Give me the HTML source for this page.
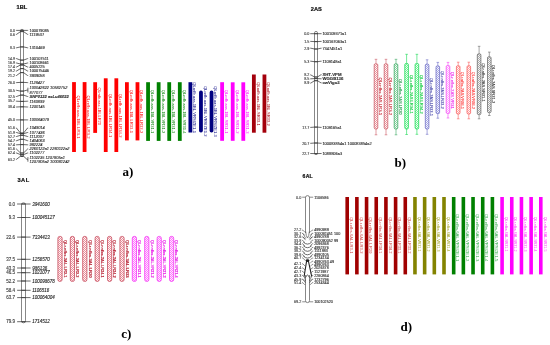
<!DOCTYPE html><html><head><meta charset="utf-8"><title>QTL map</title><style>html,body{margin:0;padding:0;background:#fff;}body{width:550px;height:345px;overflow:hidden;}svg{display:block;}</style></head><body>
<svg width="550" height="345" viewBox="0 0 550 345">
<rect width="550" height="345" fill="#fff"/>
<defs>
<pattern id="p_rose" width="2" height="2" patternUnits="userSpaceOnUse"><rect width="2" height="2" fill="#fff5f6"/><rect width="1" height="1" fill="#e8949c"/><rect x="1" y="1" width="1" height="1" fill="#e8949c"/></pattern>
<pattern id="p_mgreen" width="2" height="2" patternUnits="userSpaceOnUse"><rect width="2" height="2" fill="#f2fbf5"/><rect width="1" height="1" fill="#86d2a0"/><rect x="1" y="1" width="1" height="1" fill="#86d2a0"/></pattern>
<pattern id="p_bgreen" width="2" height="2" patternUnits="userSpaceOnUse"><rect width="2" height="2" fill="#f0fff4"/><rect width="1" height="1" fill="#72f296"/><rect x="1" y="1" width="1" height="1" fill="#72f296"/></pattern>
<pattern id="p_peri" width="2" height="2" patternUnits="userSpaceOnUse"><rect width="2" height="2" fill="#f5f5fd"/><rect width="1" height="1" fill="#a6a6e2"/><rect x="1" y="1" width="1" height="1" fill="#a6a6e2"/></pattern>
<pattern id="p_pmag" width="2" height="2" patternUnits="userSpaceOnUse"><rect width="2" height="2" fill="#fff5ff"/><rect width="1" height="1" fill="#ff9cff"/><rect x="1" y="1" width="1" height="1" fill="#ff9cff"/></pattern>
<pattern id="p_salmon" width="2" height="2" patternUnits="userSpaceOnUse"><rect width="2" height="2" fill="#fff5f5"/><rect width="1" height="1" fill="#ffa0a0"/><rect x="1" y="1" width="1" height="1" fill="#ffa0a0"/></pattern>
<pattern id="p_gray" width="2" height="2" patternUnits="userSpaceOnUse"><rect width="2" height="2" fill="#f4f4f4"/><rect width="1" height="1" fill="#a8a8a8"/><rect x="1" y="1" width="1" height="1" fill="#a8a8a8"/></pattern>
<pattern id="p_crose" width="2" height="2" patternUnits="userSpaceOnUse"><rect width="2" height="2" fill="#fff4f5"/><rect width="1" height="1" fill="#e8909c"/><rect x="1" y="1" width="1" height="1" fill="#e8909c"/></pattern>
<pattern id="p_cmag" width="2" height="2" patternUnits="userSpaceOnUse"><rect width="2" height="2" fill="#ffe8ff"/><rect width="1" height="1" fill="#ff78ff"/><rect x="1" y="1" width="1" height="1" fill="#ff78ff"/></pattern>
</defs>
<text x="16.6" y="8.8" font-family="'Liberation Sans', Arial, sans-serif" font-weight="bold" font-size="5.7" fill="#111" stroke="#111" stroke-width="0.2">1BL</text>
<rect x="20.5" y="29.3" width="3" height="127.3" rx="1.5" ry="1.5" fill="none" stroke="#6a6a6a" stroke-width="0.8"/>
<text x="14.9" y="31.66" text-anchor="end" font-family="'Liberation Sans', Arial, sans-serif" font-size="3.5" fill="#3a3a3a" stroke="#3a3a3a" stroke-width="0.12">0.0</text>
<path d="M15.9 30.4L16.5 30.4L20.5 30.4L23.5 30.4L27.6 30.4L28.2 30.4" fill="none" stroke="#303030" stroke-width="0.72"/>
<path d="M20.2 30.4H23.8" stroke="#3a3a3a" stroke-width="0.8"/>
<text x="29.5" y="31.8" font-family="'Liberation Sans', Arial, sans-serif" font-size="3.9" fill="#2a2a2a" stroke="#2a2a2a" stroke-width="0.12">100079085</text>
<text x="14.9" y="35.66" text-anchor="end" font-family="'Liberation Sans', Arial, sans-serif" font-size="3.5" fill="#3a3a3a" stroke="#3a3a3a" stroke-width="0.12">0.6</text>
<path d="M15.9 34.4L16.5 34.4L20.5 31.6L23.5 31.6L27.6 34.4L28.2 34.4" fill="none" stroke="#303030" stroke-width="0.72"/>
<path d="M20.2 31.6H23.8" stroke="#3a3a3a" stroke-width="0.8"/>
<text x="29.5" y="35.8" font-family="'Liberation Sans', Arial, sans-serif" font-size="3.9" fill="#2a2a2a" stroke="#2a2a2a" stroke-width="0.12">1119537</text>
<text x="14.9" y="49.06" text-anchor="end" font-family="'Liberation Sans', Arial, sans-serif" font-size="3.5" fill="#3a3a3a" stroke="#3a3a3a" stroke-width="0.12">8.3</text>
<path d="M15.9 47.8L16.5 47.8L20.5 46.9L23.5 46.9L27.6 47.8L28.2 47.8" fill="none" stroke="#303030" stroke-width="0.72"/>
<path d="M20.2 46.9H23.8" stroke="#3a3a3a" stroke-width="0.8"/>
<text x="29.5" y="49.2" font-family="'Liberation Sans', Arial, sans-serif" font-size="3.9" fill="#2a2a2a" stroke="#2a2a2a" stroke-width="0.12">1310469</text>
<text x="14.9" y="59.86" text-anchor="end" font-family="'Liberation Sans', Arial, sans-serif" font-size="3.5" fill="#3a3a3a" stroke="#3a3a3a" stroke-width="0.12">14.9</text>
<path d="M15.9 58.6L16.5 58.6L20.5 60.1L23.5 60.1L27.6 58.6L28.2 58.6" fill="none" stroke="#303030" stroke-width="0.72"/>
<path d="M20.2 60.1H23.8" stroke="#3a3a3a" stroke-width="0.8"/>
<text x="29.5" y="60" font-family="'Liberation Sans', Arial, sans-serif" font-size="3.9" fill="#2a2a2a" stroke="#2a2a2a" stroke-width="0.12">100107511</text>
<text x="14.9" y="64.26" text-anchor="end" font-family="'Liberation Sans', Arial, sans-serif" font-size="3.5" fill="#3a3a3a" stroke="#3a3a3a" stroke-width="0.12">16.9</text>
<path d="M15.9 63L16.5 63L20.5 64L23.5 64L27.6 63L28.2 63" fill="none" stroke="#303030" stroke-width="0.72"/>
<path d="M20.2 64H23.8" stroke="#3a3a3a" stroke-width="0.8"/>
<text x="29.5" y="64.4" font-family="'Liberation Sans', Arial, sans-serif" font-size="3.9" fill="#2a2a2a" stroke="#2a2a2a" stroke-width="0.12">100108661</text>
<text x="14.9" y="68.26" text-anchor="end" font-family="'Liberation Sans', Arial, sans-serif" font-size="3.5" fill="#3a3a3a" stroke="#3a3a3a" stroke-width="0.12">17.4</text>
<path d="M15.9 67L16.5 67L20.5 65L23.5 65L27.6 67L28.2 67" fill="none" stroke="#303030" stroke-width="0.72"/>
<path d="M20.2 65H23.8" stroke="#3a3a3a" stroke-width="0.8"/>
<text x="29.5" y="68.4" font-family="'Liberation Sans', Arial, sans-serif" font-size="3.9" fill="#2a2a2a" stroke="#2a2a2a" stroke-width="0.12">4005225</text>
<text x="14.9" y="72.26" text-anchor="end" font-family="'Liberation Sans', Arial, sans-serif" font-size="3.5" fill="#3a3a3a" stroke="#3a3a3a" stroke-width="0.12">19.2</text>
<path d="M15.9 71L16.5 71L20.5 68.6L23.5 68.6L27.6 71L28.2 71" fill="none" stroke="#303030" stroke-width="0.72"/>
<path d="M20.2 68.6H23.8" stroke="#3a3a3a" stroke-width="0.8"/>
<text x="29.5" y="72.4" font-family="'Liberation Sans', Arial, sans-serif" font-size="3.9" fill="#2a2a2a" stroke="#2a2a2a" stroke-width="0.12">100075446</text>
<text x="14.9" y="76.76" text-anchor="end" font-family="'Liberation Sans', Arial, sans-serif" font-size="3.5" fill="#3a3a3a" stroke="#3a3a3a" stroke-width="0.12">21.2</text>
<path d="M15.9 75.5L16.5 75.5L20.5 72.6L23.5 72.6L27.6 75.5L28.2 75.5" fill="none" stroke="#303030" stroke-width="0.72"/>
<path d="M20.2 72.6H23.8" stroke="#3a3a3a" stroke-width="0.8"/>
<text x="29.5" y="76.9" font-family="'Liberation Sans', Arial, sans-serif" font-size="3.9" fill="#2a2a2a" stroke="#2a2a2a" stroke-width="0.12">3939058</text>
<text x="14.9" y="83.86" text-anchor="end" font-family="'Liberation Sans', Arial, sans-serif" font-size="3.5" fill="#3a3a3a" stroke="#3a3a3a" stroke-width="0.12">26.0</text>
<path d="M15.9 82.6L16.5 82.6L20.5 82.4L23.5 82.4L27.6 82.6L28.2 82.6" fill="none" stroke="#303030" stroke-width="0.72"/>
<path d="M20.2 82.4H23.8" stroke="#3a3a3a" stroke-width="0.8"/>
<text x="29.5" y="84" font-family="'Liberation Sans', Arial, sans-serif" font-size="3.9" fill="#2a2a2a" stroke="#2a2a2a" stroke-width="0.12" font-style="italic">1128427</text>
<text x="14.9" y="91.56" text-anchor="end" font-family="'Liberation Sans', Arial, sans-serif" font-size="3.5" fill="#3a3a3a" stroke="#3a3a3a" stroke-width="0.12">30.5</text>
<path d="M15.9 90.3L16.5 90.3L20.5 91.1L23.5 91.1L27 90.1" fill="none" stroke="#303030" stroke-width="0.72"/>
<path d="M27.9 87.7V92.5M27 90.1H27.9" fill="none" stroke="#303030" stroke-width="0.72"/>
<path d="M20.2 91.1H23.8" stroke="#3a3a3a" stroke-width="0.8"/>
<text x="29.5" y="89.4" font-family="'Liberation Sans', Arial, sans-serif" font-size="3.9" fill="#2a2a2a" stroke="#2a2a2a" stroke-width="0.12" font-style="italic">100042622 10582752</text>
<text x="29.5" y="93.6" font-family="'Liberation Sans', Arial, sans-serif" font-size="3.9" fill="#2a2a2a" stroke="#2a2a2a" stroke-width="0.12" font-style="italic">877077</text>
<text x="14.9" y="97.76" text-anchor="end" font-family="'Liberation Sans', Arial, sans-serif" font-size="3.5" fill="#3a3a3a" stroke="#3a3a3a" stroke-width="0.12">32.5</text>
<path d="M15.9 96.5L16.5 96.5L20.5 95.1L23.5 95.1L27.6 96.5L28.2 96.5" fill="none" stroke="#303030" stroke-width="0.72"/>
<path d="M20.2 95.1H23.8" stroke="#3a3a3a" stroke-width="0.8"/>
<text x="29.5" y="97.96" font-family="'Liberation Sans', Arial, sans-serif" font-size="4.05" fill="#2a2a2a" stroke="#2a2a2a" stroke-width="0.12" font-weight="bold" font-style="italic">SNP0122 esLu46022</text>
<text x="14.9" y="102.46" text-anchor="end" font-family="'Liberation Sans', Arial, sans-serif" font-size="3.5" fill="#3a3a3a" stroke="#3a3a3a" stroke-width="0.12">35.7</text>
<path d="M15.9 101.2L16.5 101.2L20.5 101.4L23.5 101.4L27.6 101.2L28.2 101.2" fill="none" stroke="#303030" stroke-width="0.72"/>
<path d="M20.2 101.4H23.8" stroke="#3a3a3a" stroke-width="0.8"/>
<text x="29.5" y="102.6" font-family="'Liberation Sans', Arial, sans-serif" font-size="3.9" fill="#2a2a2a" stroke="#2a2a2a" stroke-width="0.12" font-style="italic">1160899</text>
<text x="14.9" y="108.26" text-anchor="end" font-family="'Liberation Sans', Arial, sans-serif" font-size="3.5" fill="#3a3a3a" stroke="#3a3a3a" stroke-width="0.12">38.4</text>
<path d="M15.9 107L16.5 107L20.5 106.8L23.5 106.8L27.6 107L28.2 107" fill="none" stroke="#303030" stroke-width="0.72"/>
<path d="M20.2 106.8H23.8" stroke="#3a3a3a" stroke-width="0.8"/>
<text x="29.5" y="108.4" font-family="'Liberation Sans', Arial, sans-serif" font-size="3.9" fill="#2a2a2a" stroke="#2a2a2a" stroke-width="0.12" font-style="italic">1230145</text>
<text x="14.9" y="121.16" text-anchor="end" font-family="'Liberation Sans', Arial, sans-serif" font-size="3.5" fill="#3a3a3a" stroke="#3a3a3a" stroke-width="0.12">45.0</text>
<path d="M15.9 119.9L16.5 119.9L20.5 119.9L23.5 119.9L27.6 119.9L28.2 119.9" fill="none" stroke="#303030" stroke-width="0.72"/>
<path d="M20.2 119.9H23.8" stroke="#3a3a3a" stroke-width="0.8"/>
<text x="29.5" y="121.3" font-family="'Liberation Sans', Arial, sans-serif" font-size="3.9" fill="#2a2a2a" stroke="#2a2a2a" stroke-width="0.12" font-style="italic">100064079</text>
<text x="14.9" y="129.36" text-anchor="end" font-family="'Liberation Sans', Arial, sans-serif" font-size="3.5" fill="#3a3a3a" stroke="#3a3a3a" stroke-width="0.12">51.6</text>
<path d="M15.9 128.1L16.5 128.1L20.5 133.1L23.5 133.1L27.6 128L28.2 128" fill="none" stroke="#303030" stroke-width="0.72"/>
<path d="M20.2 133.1H23.8" stroke="#3a3a3a" stroke-width="0.8"/>
<text x="29.5" y="129.4" font-family="'Liberation Sans', Arial, sans-serif" font-size="3.9" fill="#2a2a2a" stroke="#2a2a2a" stroke-width="0.12" font-style="italic">1049014</text>
<text x="14.9" y="133.76" text-anchor="end" font-family="'Liberation Sans', Arial, sans-serif" font-size="3.5" fill="#3a3a3a" stroke="#3a3a3a" stroke-width="0.12">51.9</text>
<path d="M15.9 132.5L16.5 132.5L20.5 133.7L23.5 133.7L27.6 132.5L28.2 132.5" fill="none" stroke="#303030" stroke-width="0.72"/>
<path d="M20.2 133.7H23.8" stroke="#3a3a3a" stroke-width="0.8"/>
<text x="29.5" y="133.9" font-family="'Liberation Sans', Arial, sans-serif" font-size="3.9" fill="#2a2a2a" stroke="#2a2a2a" stroke-width="0.12" font-style="italic">1077436</text>
<text x="14.9" y="137.76" text-anchor="end" font-family="'Liberation Sans', Arial, sans-serif" font-size="3.5" fill="#3a3a3a" stroke="#3a3a3a" stroke-width="0.12">52.7</text>
<path d="M15.9 136.5L16.5 136.5L20.5 135.3L23.5 135.3L27.6 136.5L28.2 136.5" fill="none" stroke="#303030" stroke-width="0.72"/>
<path d="M20.2 135.3H23.8" stroke="#3a3a3a" stroke-width="0.8"/>
<text x="29.5" y="137.9" font-family="'Liberation Sans', Arial, sans-serif" font-size="3.9" fill="#2a2a2a" stroke="#2a2a2a" stroke-width="0.12" font-style="italic">1112007</text>
<text x="14.9" y="141.96" text-anchor="end" font-family="'Liberation Sans', Arial, sans-serif" font-size="3.5" fill="#3a3a3a" stroke="#3a3a3a" stroke-width="0.12">54.7</text>
<path d="M15.9 140.7L16.5 140.7L20.5 139.3L23.5 139.3L27.6 140.7L28.2 140.7" fill="none" stroke="#303030" stroke-width="0.72"/>
<path d="M20.2 139.3H23.8" stroke="#3a3a3a" stroke-width="0.8"/>
<text x="29.5" y="142.1" font-family="'Liberation Sans', Arial, sans-serif" font-size="3.9" fill="#2a2a2a" stroke="#2a2a2a" stroke-width="0.12" font-style="italic">1404063</text>
<text x="14.9" y="146.06" text-anchor="end" font-family="'Liberation Sans', Arial, sans-serif" font-size="3.5" fill="#3a3a3a" stroke="#3a3a3a" stroke-width="0.12">57.4</text>
<path d="M15.9 144.8L16.5 144.8L20.5 144.6L23.5 144.6L27.6 144.8L28.2 144.8" fill="none" stroke="#303030" stroke-width="0.72"/>
<path d="M20.2 144.6H23.8" stroke="#3a3a3a" stroke-width="0.8"/>
<text x="29.5" y="146.2" font-family="'Liberation Sans', Arial, sans-serif" font-size="3.9" fill="#2a2a2a" stroke="#2a2a2a" stroke-width="0.12" font-style="italic">982224</text>
<text x="14.9" y="150.36" text-anchor="end" font-family="'Liberation Sans', Arial, sans-serif" font-size="3.5" fill="#3a3a3a" stroke="#3a3a3a" stroke-width="0.12">61.6</text>
<path d="M15.9 149.1L16.5 149.1L20.5 153L23.5 153L27.6 149L28.2 149" fill="none" stroke="#303030" stroke-width="0.72"/>
<path d="M20.2 153H23.8" stroke="#3a3a3a" stroke-width="0.8"/>
<text x="29.5" y="150.4" font-family="'Liberation Sans', Arial, sans-serif" font-size="3.9" fill="#2a2a2a" stroke="#2a2a2a" stroke-width="0.12" font-style="italic">2260122a1 2260122a2</text>
<text x="14.9" y="154.26" text-anchor="end" font-family="'Liberation Sans', Arial, sans-serif" font-size="3.5" fill="#3a3a3a" stroke="#3a3a3a" stroke-width="0.12">62.4</text>
<path d="M15.9 153L16.5 153L20.5 154.6L23.5 154.6L27.6 153L28.2 153" fill="none" stroke="#303030" stroke-width="0.72"/>
<path d="M20.2 154.6H23.8" stroke="#3a3a3a" stroke-width="0.8"/>
<text x="29.5" y="154.4" font-family="'Liberation Sans', Arial, sans-serif" font-size="3.9" fill="#2a2a2a" stroke="#2a2a2a" stroke-width="0.12" font-style="italic">1102277</text>
<text x="14.9" y="160.56" text-anchor="end" font-family="'Liberation Sans', Arial, sans-serif" font-size="3.5" fill="#3a3a3a" stroke="#3a3a3a" stroke-width="0.12">63.2</text>
<path d="M15.9 159.3L16.5 159.3L20.5 156.2L23.5 156.2L27 159.4" fill="none" stroke="#303030" stroke-width="0.72"/>
<path d="M27.9 157.1V161.7M27 159.4H27.9" fill="none" stroke="#303030" stroke-width="0.72"/>
<path d="M20.2 156.2H23.8" stroke="#3a3a3a" stroke-width="0.8"/>
<text x="29.5" y="158.8" font-family="'Liberation Sans', Arial, sans-serif" font-size="3.9" fill="#2a2a2a" stroke="#2a2a2a" stroke-width="0.12" font-style="italic">1102235 1237805a1</text>
<text x="29.5" y="162.8" font-family="'Liberation Sans', Arial, sans-serif" font-size="3.9" fill="#2a2a2a" stroke="#2a2a2a" stroke-width="0.12" font-style="italic">1237805a2 100081242</text>
<rect x="72.1" y="82.1" width="3.8" height="69.9" rx="0" fill="#ff0000"/>
<text transform="translate(76.9,95.5) rotate(90)" x="0" y="0" textLength="43.2" lengthAdjust="spacingAndGlyphs" font-family="'Liberation Sans', Arial, sans-serif" font-size="3.4" fill="#ff0000">QLrnfb.aas-1BL.LR3-1</text>
<rect x="82.68" y="82.1" width="3.8" height="69.9" rx="0" fill="#ff0000"/>
<text transform="translate(87.48,95.5) rotate(90)" x="0" y="0" textLength="43.2" lengthAdjust="spacingAndGlyphs" font-family="'Liberation Sans', Arial, sans-serif" font-size="3.4" fill="#ff0000">QLrnfb.aas-1BL.LR3-2</text>
<rect x="93.26" y="82.2" width="3.8" height="50.7" rx="0" fill="#ff0000"/>
<text transform="translate(98.06,87.4) rotate(90)" x="0" y="0" textLength="37.4" lengthAdjust="spacingAndGlyphs" font-family="'Liberation Sans', Arial, sans-serif" font-size="3.4" fill="#ff0000">QLrnfb.aas-1BL.LR20</text>
<rect x="103.84" y="78.3" width="3.8" height="73.7" rx="0" fill="#ff0000"/>
<text transform="translate(108.64,93.8) rotate(90)" x="0" y="0" textLength="43.4" lengthAdjust="spacingAndGlyphs" font-family="'Liberation Sans', Arial, sans-serif" font-size="3.4" fill="#ff0000">QLrnfb.aas-1BL.LR34-1</text>
<rect x="114.42" y="78.3" width="3.8" height="73.7" rx="0" fill="#ff0000"/>
<text transform="translate(119.22,93.8) rotate(90)" x="0" y="0" textLength="43.7" lengthAdjust="spacingAndGlyphs" font-family="'Liberation Sans', Arial, sans-serif" font-size="3.4" fill="#ff0000">QLrnfb.aas-1BL.LR34-2</text>
<rect x="125" y="82.2" width="3.8" height="58.2" rx="0" fill="#ff0000"/>
<text transform="translate(129.8,89.7) rotate(90)" x="0" y="0" textLength="43.2" lengthAdjust="spacingAndGlyphs" font-family="'Liberation Sans', Arial, sans-serif" font-size="3.4" fill="#ff0000">QLrnfb.aas-1BL.LR33-1</text>
<rect x="135.58" y="82.2" width="3.8" height="58.2" rx="0" fill="#ff0000"/>
<text transform="translate(140.38,89.7) rotate(90)" x="0" y="0" textLength="43.6" lengthAdjust="spacingAndGlyphs" font-family="'Liberation Sans', Arial, sans-serif" font-size="3.4" fill="#ff0000">QLrnfb.aas-1BL.LR33-2</text>
<rect x="146.16" y="82.2" width="3.8" height="58.7" rx="0" fill="#008000"/>
<text transform="translate(150.96,89.7) rotate(90)" x="0" y="0" textLength="43.6" lengthAdjust="spacingAndGlyphs" font-family="'Liberation Sans', Arial, sans-serif" font-size="3.4" fill="#008000">QLrnfb.aas-1BL.VR31-1</text>
<rect x="156.74" y="82.2" width="3.8" height="58.7" rx="0" fill="#008000"/>
<text transform="translate(161.54,89.7) rotate(90)" x="0" y="0" textLength="43.6" lengthAdjust="spacingAndGlyphs" font-family="'Liberation Sans', Arial, sans-serif" font-size="3.4" fill="#008000">QLrnfb.aas-1BL.VR31-2</text>
<rect x="167.32" y="82.2" width="3.8" height="58.7" rx="0" fill="#008000"/>
<text transform="translate(172.12,89.7) rotate(90)" x="0" y="0" textLength="43.6" lengthAdjust="spacingAndGlyphs" font-family="'Liberation Sans', Arial, sans-serif" font-size="3.4" fill="#008000">QLrnfb.aas-1BL.VR31-3</text>
<rect x="177.9" y="82.2" width="3.8" height="58.7" rx="0" fill="#008000"/>
<text transform="translate(182.7,89.7) rotate(90)" x="0" y="0" textLength="43.9" lengthAdjust="spacingAndGlyphs" font-family="'Liberation Sans', Arial, sans-serif" font-size="3.4" fill="#008000">QLrnfb.aas-1BL.VR31-4</text>
<rect x="188.48" y="82.2" width="3.8" height="50.3" rx="0" fill="#000080"/>
<text transform="translate(193.28,82.2) rotate(90)" x="0" y="0" textLength="50.8" lengthAdjust="spacingAndGlyphs" font-family="'Liberation Sans', Arial, sans-serif" font-size="3.4" fill="#000080">QLrnfb.aas-1BL.VRSIZE1-1</text>
<rect x="199.06" y="90.6" width="3.8" height="41.9" rx="1.8" fill="#000080"/>
<text transform="translate(203.86,86.2) rotate(90)" x="0" y="0" textLength="50.3" lengthAdjust="spacingAndGlyphs" font-family="'Liberation Sans', Arial, sans-serif" font-size="3.4" fill="#000080">QLrnfb.aas-1BL.VRSIZE1-2</text>
<rect x="209.64" y="90.6" width="3.8" height="41.9" rx="1.8" fill="#000080"/>
<text transform="translate(214.44,86.2) rotate(90)" x="0" y="0" textLength="50.7" lengthAdjust="spacingAndGlyphs" font-family="'Liberation Sans', Arial, sans-serif" font-size="3.4" fill="#000080">QLrnfb.aas-1BL.VRSIZE1-3</text>
<rect x="220.22" y="82.2" width="3.8" height="58.6" rx="0" fill="#ff00ff"/>
<text transform="translate(225.02,89.7) rotate(90)" x="0" y="0" textLength="43.8" lengthAdjust="spacingAndGlyphs" font-family="'Liberation Sans', Arial, sans-serif" font-size="3.4" fill="#ff00ff">QLrnfb.aas-1BL.SR31-1</text>
<rect x="230.8" y="82.3" width="3.8" height="58.5" rx="0" fill="#ff00ff"/>
<text transform="translate(235.6,89.7) rotate(90)" x="0" y="0" textLength="43.8" lengthAdjust="spacingAndGlyphs" font-family="'Liberation Sans', Arial, sans-serif" font-size="3.4" fill="#ff00ff">QLrnfb.aas-1BL.SR31-2</text>
<rect x="241.38" y="82.3" width="3.8" height="58.5" rx="0" fill="#ff00ff"/>
<text transform="translate(246.18,89.7) rotate(90)" x="0" y="0" textLength="43.8" lengthAdjust="spacingAndGlyphs" font-family="'Liberation Sans', Arial, sans-serif" font-size="3.4" fill="#ff00ff">QLrnfb.aas-1BL.SR31-3</text>
<rect x="251.96" y="74.5" width="3.8" height="58.2" rx="0" fill="#a4000c"/>
<text transform="translate(256.76,82.3) rotate(90)" x="0" y="0" textLength="43.4" lengthAdjust="spacingAndGlyphs" font-family="'Liberation Sans', Arial, sans-serif" font-size="3.4" fill="#a4000c">QLrnfb.aas-1BL.SR33-1</text>
<rect x="262.54" y="74.5" width="3.8" height="58.2" rx="0" fill="#a4000c"/>
<text transform="translate(267.34,82.3) rotate(90)" x="0" y="0" textLength="43.4" lengthAdjust="spacingAndGlyphs" font-family="'Liberation Sans', Arial, sans-serif" font-size="3.4" fill="#a4000c">QLrnfb.aas-1BL.SR33-2</text>
<text x="122.6" y="175.9" font-family="'Liberation Serif', 'Times New Roman', serif" font-weight="bold" font-size="13" fill="#000">a)</text>
<text x="310.8" y="11" font-family="'Liberation Sans', Arial, sans-serif" font-weight="bold" font-size="5.7" fill="#111" stroke="#111" stroke-width="0.2">2AS</text>
<rect x="314.5" y="31.4" width="3" height="123.2" rx="1.5" ry="1.5" fill="none" stroke="#6a6a6a" stroke-width="0.8"/>
<text x="309.4" y="35.03" text-anchor="end" font-family="'Liberation Sans', Arial, sans-serif" font-size="3.7" fill="#3a3a3a" stroke="#3a3a3a" stroke-width="0.12">0.0</text>
<path d="M310.2 33.7L310.8 33.7L314.5 33.7L317.5 33.7L321 33.7L321.6 33.7" fill="none" stroke="#303030" stroke-width="0.72"/>
<path d="M314.2 33.7H317.8" stroke="#3a3a3a" stroke-width="0.8"/>
<text x="322.4" y="35.12" font-family="'Liberation Sans', Arial, sans-serif" font-size="3.95" fill="#2a2a2a" stroke="#2a2a2a" stroke-width="0.12">100109371a1</text>
<text x="309.4" y="42.73" text-anchor="end" font-family="'Liberation Sans', Arial, sans-serif" font-size="3.7" fill="#3a3a3a" stroke="#3a3a3a" stroke-width="0.12">1.5</text>
<path d="M310.2 41.4L310.8 41.4L314.5 41.6L317.5 41.6L321 41.4L321.6 41.4" fill="none" stroke="#303030" stroke-width="0.72"/>
<path d="M314.2 41.6H317.8" stroke="#3a3a3a" stroke-width="0.8"/>
<text x="322.4" y="42.82" font-family="'Liberation Sans', Arial, sans-serif" font-size="3.95" fill="#2a2a2a" stroke="#2a2a2a" stroke-width="0.12">100167063a1</text>
<text x="309.4" y="49.53" text-anchor="end" font-family="'Liberation Sans', Arial, sans-serif" font-size="3.7" fill="#3a3a3a" stroke="#3a3a3a" stroke-width="0.12">2.9</text>
<path d="M310.2 48.2L310.8 48.2L314.5 49L317.5 49L321 48.2L321.6 48.2" fill="none" stroke="#303030" stroke-width="0.72"/>
<path d="M314.2 49H317.8" stroke="#3a3a3a" stroke-width="0.8"/>
<text x="322.4" y="49.62" font-family="'Liberation Sans', Arial, sans-serif" font-size="3.95" fill="#2a2a2a" stroke="#2a2a2a" stroke-width="0.12">7347451a1</text>
<text x="309.4" y="62.53" text-anchor="end" font-family="'Liberation Sans', Arial, sans-serif" font-size="3.7" fill="#3a3a3a" stroke="#3a3a3a" stroke-width="0.12">5.3</text>
<path d="M310.2 61.2L310.8 61.2L314.5 61.7L317.5 61.7L321 61.2L321.6 61.2" fill="none" stroke="#303030" stroke-width="0.72"/>
<path d="M314.2 61.7H317.8" stroke="#3a3a3a" stroke-width="0.8"/>
<text x="322.4" y="62.62" font-family="'Liberation Sans', Arial, sans-serif" font-size="3.95" fill="#2a2a2a" stroke="#2a2a2a" stroke-width="0.12">1109148a1</text>
<text x="309.4" y="76.23" text-anchor="end" font-family="'Liberation Sans', Arial, sans-serif" font-size="3.7" fill="#3a3a3a" stroke="#3a3a3a" stroke-width="0.12">8.2</text>
<path d="M310.2 74.9L310.8 74.9L314.5 77L317.5 77L321 74.7L321.6 74.7" fill="none" stroke="#303030" stroke-width="0.72"/>
<path d="M314.2 77H317.8" stroke="#3a3a3a" stroke-width="0.8"/>
<text x="322.4" y="76.25" font-family="'Liberation Sans', Arial, sans-serif" font-size="4.3" fill="#2a2a2a" stroke="#2a2a2a" stroke-width="0.12" font-weight="bold">XHT-VPM</text>
<text x="309.4" y="80.13" text-anchor="end" font-family="'Liberation Sans', Arial, sans-serif" font-size="3.7" fill="#3a3a3a" stroke="#3a3a3a" stroke-width="0.12">8.5</text>
<path d="M310.2 78.8L310.8 78.8L314.5 78.6L317.5 78.6L321 78.8L321.6 78.8" fill="none" stroke="#303030" stroke-width="0.72"/>
<path d="M314.2 78.6H317.8" stroke="#3a3a3a" stroke-width="0.8"/>
<text x="322.4" y="80.35" font-family="'Liberation Sans', Arial, sans-serif" font-size="4.3" fill="#2a2a2a" stroke="#2a2a2a" stroke-width="0.12" font-weight="bold">WGGB136</text>
<text x="309.4" y="84.43" text-anchor="end" font-family="'Liberation Sans', Arial, sans-serif" font-size="3.7" fill="#3a3a3a" stroke="#3a3a3a" stroke-width="0.12">8.9</text>
<path d="M310.2 83.1L310.8 83.1L314.5 80.7L317.5 80.7L321 82.9L321.6 82.9" fill="none" stroke="#303030" stroke-width="0.72"/>
<path d="M314.2 80.7H317.8" stroke="#3a3a3a" stroke-width="0.8"/>
<text x="322.4" y="84.45" font-family="'Liberation Sans', Arial, sans-serif" font-size="4.3" fill="#2a2a2a" stroke="#2a2a2a" stroke-width="0.12" font-weight="bold">cwVigu3</text>
<text x="309.4" y="128.73" text-anchor="end" font-family="'Liberation Sans', Arial, sans-serif" font-size="3.7" fill="#3a3a3a" stroke="#3a3a3a" stroke-width="0.12">17.7</text>
<path d="M310.2 127.4L310.8 127.4L314.5 127.1L317.5 127.1L321 127.4L321.6 127.4" fill="none" stroke="#303030" stroke-width="0.72"/>
<path d="M314.2 127.1H317.8" stroke="#3a3a3a" stroke-width="0.8"/>
<text x="322.4" y="128.82" font-family="'Liberation Sans', Arial, sans-serif" font-size="3.95" fill="#2a2a2a" stroke="#2a2a2a" stroke-width="0.12">1109165a1</text>
<text x="309.4" y="144.63" text-anchor="end" font-family="'Liberation Sans', Arial, sans-serif" font-size="3.7" fill="#3a3a3a" stroke="#3a3a3a" stroke-width="0.12">20.7</text>
<path d="M310.2 143.3L310.8 143.3L314.5 143L317.5 143L321 143.3L321.6 143.3" fill="none" stroke="#303030" stroke-width="0.72"/>
<path d="M314.2 143H317.8" stroke="#3a3a3a" stroke-width="0.8"/>
<text x="322.4" y="144.72" font-family="'Liberation Sans', Arial, sans-serif" font-size="3.95" fill="#2a2a2a" stroke="#2a2a2a" stroke-width="0.12">100083854a1 100083854a2</text>
<text x="309.4" y="154.83" text-anchor="end" font-family="'Liberation Sans', Arial, sans-serif" font-size="3.7" fill="#3a3a3a" stroke="#3a3a3a" stroke-width="0.12">22.7</text>
<path d="M310.2 153.5L310.8 153.5L314.5 153.6L317.5 153.6L321 153.5L321.6 153.5" fill="none" stroke="#303030" stroke-width="0.72"/>
<path d="M314.2 153.6H317.8" stroke="#3a3a3a" stroke-width="0.8"/>
<text x="322.4" y="154.92" font-family="'Liberation Sans', Arial, sans-serif" font-size="3.95" fill="#2a2a2a" stroke="#2a2a2a" stroke-width="0.12">1088806a3</text>
<path d="M374.7 59.3H377.3M376 59.3V63.7M376 129V134.8M374.7 134.8H377.3" stroke="#cc5a66" stroke-width="0.6" fill="none"/>
<rect x="374.2" y="63.7" width="3.6" height="65.3" rx="1.4" ry="1.2" fill="url(#p_rose)" stroke="#cc5a66" stroke-width="0.75"/>
<text transform="translate(379.1,77.4) rotate(90)" x="0" y="0" textLength="37.8" lengthAdjust="spacingAndGlyphs" font-family="'Liberation Sans', Arial, sans-serif" font-size="3.5" fill="#c8303c" stroke="#c8303c" stroke-width="0.1">QLr.nfbs-2AS.LR3-1</text>
<path d="M384.7 59.3H387.3M386 59.3V63.7M386 129V134.8M384.7 134.8H387.3" stroke="#cc5a66" stroke-width="0.6" fill="none"/>
<rect x="384.2" y="63.7" width="3.6" height="65.3" rx="1.4" ry="1.2" fill="url(#p_rose)" stroke="#cc5a66" stroke-width="0.75"/>
<text transform="translate(389.1,77.4) rotate(90)" x="0" y="0" textLength="37.8" lengthAdjust="spacingAndGlyphs" font-family="'Liberation Sans', Arial, sans-serif" font-size="3.5" fill="#c8303c" stroke="#c8303c" stroke-width="0.1">QLr.nfbs-2AS.LR3-2</text>
<path d="M394.7 59.3H397.3M396 59.3V63.7M396 129V134.8M394.7 134.8H397.3" stroke="#3aa862" stroke-width="0.6" fill="none"/>
<rect x="394.2" y="63.7" width="3.6" height="65.3" rx="1.4" ry="1.2" fill="url(#p_mgreen)" stroke="#3aa862" stroke-width="0.75"/>
<text transform="translate(399.1,79.1) rotate(90)" x="0" y="0" textLength="35.4" lengthAdjust="spacingAndGlyphs" font-family="'Liberation Sans', Arial, sans-serif" font-size="3.5" fill="#2e9e52" stroke="#2e9e52" stroke-width="0.1">QLr.nfbs-2AS.LR20</text>
<path d="M405.3 54.3H407.9M406.6 54.3V63.5M406.6 129V134.5M405.3 134.5H407.9" stroke="#14d850" stroke-width="0.6" fill="none"/>
<rect x="404.8" y="63.5" width="3.6" height="65.5" rx="1.4" ry="1.2" fill="url(#p_bgreen)" stroke="#14d850" stroke-width="0.75"/>
<text transform="translate(409.7,75.1) rotate(90)" x="0" y="0" textLength="38.7" lengthAdjust="spacingAndGlyphs" font-family="'Liberation Sans', Arial, sans-serif" font-size="3.5" fill="#16cc44" stroke="#16cc44" stroke-width="0.1">QLr.nfbs-2AS.LR34-1</text>
<path d="M415.6 54.3H418.2M416.9 54.3V63.5M416.9 129V134.3M415.6 134.3H418.2" stroke="#14d850" stroke-width="0.6" fill="none"/>
<rect x="415.1" y="63.5" width="3.6" height="65.5" rx="1.4" ry="1.2" fill="url(#p_bgreen)" stroke="#14d850" stroke-width="0.75"/>
<text transform="translate(420,75.1) rotate(90)" x="0" y="0" textLength="38.7" lengthAdjust="spacingAndGlyphs" font-family="'Liberation Sans', Arial, sans-serif" font-size="3.5" fill="#16cc44" stroke="#16cc44" stroke-width="0.1">QLr.nfbs-2AS.LR34-2</text>
<path d="M425.8 59.8H428.4M427.1 59.8V64.1M427.1 129V134.3M425.8 134.3H428.4" stroke="#6a6ac4" stroke-width="0.6" fill="none"/>
<rect x="425.3" y="64.1" width="3.6" height="64.9" rx="1.4" ry="1.2" fill="url(#p_peri)" stroke="#6a6ac4" stroke-width="0.75"/>
<text transform="translate(430.2,78) rotate(90)" x="0" y="0" textLength="38" lengthAdjust="spacingAndGlyphs" font-family="'Liberation Sans', Arial, sans-serif" font-size="3.5" fill="#4646aa" stroke="#4646aa" stroke-width="0.1">QLr.nfbs-2AS.LR33-1</text>
<path d="M436.5 62.4H439.1M437.8 62.4V65.9M437.8 113.6V118.2M436.5 118.2H439.1" stroke="#6a6ac4" stroke-width="0.6" fill="none"/>
<rect x="436" y="65.9" width="3.6" height="47.7" rx="1.4" ry="1.2" fill="url(#p_peri)" stroke="#6a6ac4" stroke-width="0.75"/>
<text transform="translate(440.9,71.1) rotate(90)" x="0" y="0" textLength="37.7" lengthAdjust="spacingAndGlyphs" font-family="'Liberation Sans', Arial, sans-serif" font-size="3.5" fill="#4646aa" stroke="#4646aa" stroke-width="0.1">QLr.nfbs-2AS.LR33-2</text>
<path d="M446.7 62.4H449.3M448 62.4V65.5M448 113.5V118M446.7 118H449.3" stroke="#f444f4" stroke-width="0.6" fill="none"/>
<rect x="446.2" y="65.5" width="3.6" height="48" rx="1.4" ry="1.2" fill="url(#p_pmag)" stroke="#f444f4" stroke-width="0.75"/>
<text transform="translate(451.1,71.7) rotate(90)" x="0" y="0" textLength="37.1" lengthAdjust="spacingAndGlyphs" font-family="'Liberation Sans', Arial, sans-serif" font-size="3.5" fill="#ee33ee" stroke="#ee33ee" stroke-width="0.1">QLr.nfbs-2AS.VR31</text>
<path d="M456.9 62.2H459.5M458.2 62.2V65.7M458.2 114V118.8M456.9 118.8H459.5" stroke="#f85c5c" stroke-width="0.6" fill="none"/>
<rect x="456.4" y="65.7" width="3.6" height="48.3" rx="1.4" ry="1.2" fill="url(#p_salmon)" stroke="#f85c5c" stroke-width="0.75"/>
<text transform="translate(461.3,71.7) rotate(90)" x="0" y="0" textLength="37.3" lengthAdjust="spacingAndGlyphs" font-family="'Liberation Sans', Arial, sans-serif" font-size="3.5" fill="#ff3c3c" stroke="#ff3c3c" stroke-width="0.1">QLr.nfbs-2AS.VRSI-1</text>
<path d="M467.5 62.2H470.1M468.8 62.2V65.7M468.8 114V118.8M467.5 118.8H470.1" stroke="#f85c5c" stroke-width="0.6" fill="none"/>
<rect x="467" y="65.7" width="3.6" height="48.3" rx="1.4" ry="1.2" fill="url(#p_salmon)" stroke="#f85c5c" stroke-width="0.75"/>
<text transform="translate(471.9,71.7) rotate(90)" x="0" y="0" textLength="37.3" lengthAdjust="spacingAndGlyphs" font-family="'Liberation Sans', Arial, sans-serif" font-size="3.5" fill="#ff3c3c" stroke="#ff3c3c" stroke-width="0.1">QLr.nfbs-2AS.VRSI-2</text>
<path d="M477.8 46.3H480.4M479.1 46.3V53.8M479.1 114.6V118.8M477.8 118.8H480.4" stroke="#686868" stroke-width="0.6" fill="none"/>
<rect x="477.3" y="53.8" width="3.6" height="60.8" rx="1.4" ry="1.2" fill="url(#p_gray)" stroke="#686868" stroke-width="0.75"/>
<text transform="translate(482.2,63.3) rotate(90)" x="0" y="0" textLength="38.4" lengthAdjust="spacingAndGlyphs" font-family="'Liberation Sans', Arial, sans-serif" font-size="3.5" fill="#3c3c3c" stroke="#3c3c3c" stroke-width="0.1">QLr.nfbs-2AS.SR31-1</text>
<path d="M488 52.1H490.6M489.3 52.1V56.7M489.3 112.6V115.5M488 115.5H490.6" stroke="#686868" stroke-width="0.6" fill="none"/>
<rect x="487.5" y="56.7" width="3.6" height="55.9" rx="1.4" ry="1.2" fill="url(#p_gray)" stroke="#686868" stroke-width="0.75"/>
<text transform="translate(492.4,64.7) rotate(90)" x="0" y="0" textLength="38.5" lengthAdjust="spacingAndGlyphs" font-family="'Liberation Sans', Arial, sans-serif" font-size="3.5" fill="#3c3c3c" stroke="#3c3c3c" stroke-width="0.1">QLr.nfbs-2AS.SR31-2</text>
<text x="394.6" y="166.8" font-family="'Liberation Serif', 'Times New Roman', serif" font-weight="bold" font-size="13" fill="#000">b)</text>
<text x="17.4" y="182.1" font-family="'Liberation Sans', Arial, sans-serif" font-weight="bold" font-size="5.7" letter-spacing="0.5" fill="#111" stroke="#111" stroke-width="0.2">3AL</text>
<rect x="21.5" y="202.8" width="4" height="120" rx="2" ry="2" fill="none" stroke="#6a6a6a" stroke-width="0.8"/>
<text x="15" y="205.62" text-anchor="end" font-family="'Liberation Sans', Arial, sans-serif" font-size="4.5" fill="#3a3a3a" stroke="#3a3a3a" stroke-width="0.12">0.0</text>
<path d="M17 204L17.6 204L21.5 204L25.5 204L30 204L30.6 204" fill="none" stroke="#303030" stroke-width="0.72"/>
<path d="M21.2 204H25.8" stroke="#3a3a3a" stroke-width="0.8"/>
<text x="32.2" y="205.62" font-family="'Liberation Sans', Arial, sans-serif" font-size="4.5" fill="#2a2a2a" stroke="#2a2a2a" stroke-width="0.12" font-style="italic">3941600</text>
<text x="15" y="219.12" text-anchor="end" font-family="'Liberation Sans', Arial, sans-serif" font-size="4.5" fill="#3a3a3a" stroke="#3a3a3a" stroke-width="0.12">9.3</text>
<path d="M17 217.5L17.6 217.5L21.5 217.5L25.5 217.5L30 217.5L30.6 217.5" fill="none" stroke="#303030" stroke-width="0.72"/>
<path d="M21.2 217.5H25.8" stroke="#3a3a3a" stroke-width="0.8"/>
<text x="32.2" y="219.12" font-family="'Liberation Sans', Arial, sans-serif" font-size="4.5" fill="#2a2a2a" stroke="#2a2a2a" stroke-width="0.12" font-style="italic">100045127</text>
<text x="15" y="238.72" text-anchor="end" font-family="'Liberation Sans', Arial, sans-serif" font-size="4.5" fill="#3a3a3a" stroke="#3a3a3a" stroke-width="0.12">22.6</text>
<path d="M17 237.1L17.6 237.1L21.5 237.1L25.5 237.1L30 237.1L30.6 237.1" fill="none" stroke="#303030" stroke-width="0.72"/>
<path d="M21.2 237.1H25.8" stroke="#3a3a3a" stroke-width="0.8"/>
<text x="32.2" y="238.72" font-family="'Liberation Sans', Arial, sans-serif" font-size="4.5" fill="#2a2a2a" stroke="#2a2a2a" stroke-width="0.12" font-style="italic">7334423</text>
<text x="15" y="260.92" text-anchor="end" font-family="'Liberation Sans', Arial, sans-serif" font-size="4.5" fill="#3a3a3a" stroke="#3a3a3a" stroke-width="0.12">37.5</text>
<path d="M17 259.3L17.6 259.3L21.5 259.3L25.5 259.3L30 259.3L30.6 259.3" fill="none" stroke="#303030" stroke-width="0.72"/>
<path d="M21.2 259.3H25.8" stroke="#3a3a3a" stroke-width="0.8"/>
<text x="32.2" y="260.92" font-family="'Liberation Sans', Arial, sans-serif" font-size="4.5" fill="#2a2a2a" stroke="#2a2a2a" stroke-width="0.12" font-style="italic">1256570</text>
<text x="15" y="269.62" text-anchor="end" font-family="'Liberation Sans', Arial, sans-serif" font-size="4.5" fill="#3a3a3a" stroke="#3a3a3a" stroke-width="0.12">43.3</text>
<path d="M17 268L17.6 268L21.5 268L25.5 268L30 268L30.6 268" fill="none" stroke="#303030" stroke-width="0.72"/>
<path d="M21.2 268H25.8" stroke="#3a3a3a" stroke-width="0.8"/>
<text x="32.2" y="269.62" font-family="'Liberation Sans', Arial, sans-serif" font-size="4.5" fill="#2a2a2a" stroke="#2a2a2a" stroke-width="0.12" font-style="italic">986136</text>
<text x="15" y="274.32" text-anchor="end" font-family="'Liberation Sans', Arial, sans-serif" font-size="4.5" fill="#3a3a3a" stroke="#3a3a3a" stroke-width="0.12">46.5</text>
<path d="M17 272.7L17.6 272.7L21.5 272.7L25.5 272.7L30 272.7L30.6 272.7" fill="none" stroke="#303030" stroke-width="0.72"/>
<path d="M21.2 272.7H25.8" stroke="#3a3a3a" stroke-width="0.8"/>
<text x="32.2" y="274.32" font-family="'Liberation Sans', Arial, sans-serif" font-size="4.5" fill="#2a2a2a" stroke="#2a2a2a" stroke-width="0.12" font-style="italic">1021077</text>
<text x="15" y="282.62" text-anchor="end" font-family="'Liberation Sans', Arial, sans-serif" font-size="4.5" fill="#3a3a3a" stroke="#3a3a3a" stroke-width="0.12">52.2</text>
<path d="M17 281L17.6 281L21.5 281L25.5 281L30 281L30.6 281" fill="none" stroke="#303030" stroke-width="0.72"/>
<path d="M21.2 281H25.8" stroke="#3a3a3a" stroke-width="0.8"/>
<text x="32.2" y="282.62" font-family="'Liberation Sans', Arial, sans-serif" font-size="4.5" fill="#2a2a2a" stroke="#2a2a2a" stroke-width="0.12" font-style="italic">100098678</text>
<text x="15" y="291.92" text-anchor="end" font-family="'Liberation Sans', Arial, sans-serif" font-size="4.5" fill="#3a3a3a" stroke="#3a3a3a" stroke-width="0.12">58.4</text>
<path d="M17 290.3L17.6 290.3L21.5 290.3L25.5 290.3L30 290.3L30.6 290.3" fill="none" stroke="#303030" stroke-width="0.72"/>
<path d="M21.2 290.3H25.8" stroke="#3a3a3a" stroke-width="0.8"/>
<text x="32.2" y="291.92" font-family="'Liberation Sans', Arial, sans-serif" font-size="4.5" fill="#2a2a2a" stroke="#2a2a2a" stroke-width="0.12" font-style="italic">1106516</text>
<text x="15" y="299.22" text-anchor="end" font-family="'Liberation Sans', Arial, sans-serif" font-size="4.5" fill="#3a3a3a" stroke="#3a3a3a" stroke-width="0.12">63.7</text>
<path d="M17 297.6L17.6 297.6L21.5 297.6L25.5 297.6L30 297.6L30.6 297.6" fill="none" stroke="#303030" stroke-width="0.72"/>
<path d="M21.2 297.6H25.8" stroke="#3a3a3a" stroke-width="0.8"/>
<text x="32.2" y="299.22" font-family="'Liberation Sans', Arial, sans-serif" font-size="4.5" fill="#2a2a2a" stroke="#2a2a2a" stroke-width="0.12" font-style="italic">100064004</text>
<text x="15" y="323.32" text-anchor="end" font-family="'Liberation Sans', Arial, sans-serif" font-size="4.5" fill="#3a3a3a" stroke="#3a3a3a" stroke-width="0.12">79.9</text>
<path d="M17 321.7L17.6 321.7L21.5 321.7L25.5 321.7L30 321.7L30.6 321.7" fill="none" stroke="#303030" stroke-width="0.72"/>
<path d="M21.2 321.7H25.8" stroke="#3a3a3a" stroke-width="0.8"/>
<text x="32.2" y="323.32" font-family="'Liberation Sans', Arial, sans-serif" font-size="4.5" fill="#2a2a2a" stroke="#2a2a2a" stroke-width="0.12" font-style="italic">1714512</text>
<rect x="57.9" y="236.4" width="4.2" height="45" rx="1.8" ry="1.9" fill="url(#p_crose)" stroke="#c84c5e" stroke-width="0.8"/>
<text transform="translate(63.7,240) rotate(90)" x="0" y="0" textLength="37.6" lengthAdjust="spacingAndGlyphs" font-family="'Liberation Sans', Arial, sans-serif" font-size="4.3" fill="#b82436" stroke="#b82436" stroke-width="0.1" font-weight="bold">QLr.nfbs-3AL.LR3-1</text>
<rect x="70.3" y="236.4" width="4.2" height="45" rx="1.8" ry="1.9" fill="url(#p_crose)" stroke="#c84c5e" stroke-width="0.8"/>
<text transform="translate(76.1,240) rotate(90)" x="0" y="0" textLength="37.6" lengthAdjust="spacingAndGlyphs" font-family="'Liberation Sans', Arial, sans-serif" font-size="4.3" fill="#b82436" stroke="#b82436" stroke-width="0.1" font-weight="bold">QLr.nfbs-3AL.LR3-2</text>
<rect x="82.7" y="236.4" width="4.2" height="45" rx="1.8" ry="1.9" fill="url(#p_crose)" stroke="#c84c5e" stroke-width="0.8"/>
<text transform="translate(88.5,240) rotate(90)" x="0" y="0" textLength="37.6" lengthAdjust="spacingAndGlyphs" font-family="'Liberation Sans', Arial, sans-serif" font-size="4.3" fill="#b82436" stroke="#b82436" stroke-width="0.1" font-weight="bold">QLr.nfbs-3AL.LR20</text>
<rect x="95.1" y="236.4" width="4.2" height="45" rx="1.8" ry="1.9" fill="url(#p_crose)" stroke="#c84c5e" stroke-width="0.8"/>
<text transform="translate(100.9,240) rotate(90)" x="0" y="0" textLength="37.6" lengthAdjust="spacingAndGlyphs" font-family="'Liberation Sans', Arial, sans-serif" font-size="4.3" fill="#b82436" stroke="#b82436" stroke-width="0.1" font-weight="bold">QLr.nfbs-3AL.LR34-1</text>
<rect x="107.5" y="236.4" width="4.2" height="45" rx="1.8" ry="1.9" fill="url(#p_crose)" stroke="#c84c5e" stroke-width="0.8"/>
<text transform="translate(113.3,240) rotate(90)" x="0" y="0" textLength="37.6" lengthAdjust="spacingAndGlyphs" font-family="'Liberation Sans', Arial, sans-serif" font-size="4.3" fill="#b82436" stroke="#b82436" stroke-width="0.1" font-weight="bold">QLr.nfbs-3AL.LR34-2</text>
<rect x="119.9" y="236.4" width="4.2" height="45" rx="1.8" ry="1.9" fill="url(#p_crose)" stroke="#c84c5e" stroke-width="0.8"/>
<text transform="translate(125.7,240) rotate(90)" x="0" y="0" textLength="37.6" lengthAdjust="spacingAndGlyphs" font-family="'Liberation Sans', Arial, sans-serif" font-size="4.3" fill="#b82436" stroke="#b82436" stroke-width="0.1" font-weight="bold">QLr.nfbs-3AL.LR33</text>
<rect x="132.3" y="236.4" width="4.2" height="45" rx="1.8" ry="1.9" fill="url(#p_cmag)" stroke="#f438f4" stroke-width="0.8"/>
<text transform="translate(138.1,240) rotate(90)" x="0" y="0" textLength="37.6" lengthAdjust="spacingAndGlyphs" font-family="'Liberation Sans', Arial, sans-serif" font-size="4.3" fill="#e820e8" stroke="#e820e8" stroke-width="0.1" font-weight="bold">QLr.nfbs-3AL.VR31-1</text>
<rect x="144.7" y="236.4" width="4.2" height="45" rx="1.8" ry="1.9" fill="url(#p_cmag)" stroke="#f438f4" stroke-width="0.8"/>
<text transform="translate(150.5,240) rotate(90)" x="0" y="0" textLength="37.6" lengthAdjust="spacingAndGlyphs" font-family="'Liberation Sans', Arial, sans-serif" font-size="4.3" fill="#e820e8" stroke="#e820e8" stroke-width="0.1" font-weight="bold">QLr.nfbs-3AL.VR31-2</text>
<rect x="157.1" y="236.4" width="4.2" height="45" rx="1.8" ry="1.9" fill="url(#p_cmag)" stroke="#f438f4" stroke-width="0.8"/>
<text transform="translate(162.9,240) rotate(90)" x="0" y="0" textLength="37.6" lengthAdjust="spacingAndGlyphs" font-family="'Liberation Sans', Arial, sans-serif" font-size="4.3" fill="#e820e8" stroke="#e820e8" stroke-width="0.1" font-weight="bold">QLr.nfbs-3AL.VR31-3</text>
<rect x="169.5" y="236.4" width="4.2" height="45" rx="1.8" ry="1.9" fill="url(#p_cmag)" stroke="#f438f4" stroke-width="0.8"/>
<text transform="translate(175.3,240) rotate(90)" x="0" y="0" textLength="37.6" lengthAdjust="spacingAndGlyphs" font-family="'Liberation Sans', Arial, sans-serif" font-size="4.3" fill="#e820e8" stroke="#e820e8" stroke-width="0.1" font-weight="bold">QLr.nfbs-3AL.VR31-4</text>
<text x="121.3" y="337.8" font-family="'Liberation Serif', 'Times New Roman', serif" font-weight="bold" font-size="13" fill="#000">c)</text>
<text x="302.5" y="178" font-family="'Liberation Sans', Arial, sans-serif" font-weight="bold" font-size="5.1" letter-spacing="0.3" fill="#111" stroke="#111" stroke-width="0.2">6AL</text>
<rect x="305.5" y="195.6" width="4" height="107" rx="2" ry="2" fill="none" stroke="#6a6a6a" stroke-width="0.8"/>
<text x="301.3" y="198.55" text-anchor="end" font-family="'Liberation Sans', Arial, sans-serif" font-size="3.75" fill="#3a3a3a" stroke="#3a3a3a" stroke-width="0.1">0.0</text>
<path d="M302.2 197.2L305.7 197.2" fill="none" stroke="#303030" stroke-width="0.55"/>
<text x="301.3" y="231.45" text-anchor="end" font-family="'Liberation Sans', Arial, sans-serif" font-size="3.75" fill="#3a3a3a" stroke="#3a3a3a" stroke-width="0.1">27.2</text>
<path d="M302 230.1L302.8 230.1L305 232.3" fill="none" stroke="#303030" stroke-width="0.55"/>
<text x="301.3" y="234.75" text-anchor="end" font-family="'Liberation Sans', Arial, sans-serif" font-size="3.75" fill="#3a3a3a" stroke="#3a3a3a" stroke-width="0.1">30.7</text>
<path d="M302 233.4L302.8 233.4L305 235.6" fill="none" stroke="#303030" stroke-width="0.55"/>
<text x="301.3" y="238.25" text-anchor="end" font-family="'Liberation Sans', Arial, sans-serif" font-size="3.75" fill="#3a3a3a" stroke="#3a3a3a" stroke-width="0.1">32.6</text>
<path d="M302 236.9L302.8 236.9L305 239.1" fill="none" stroke="#303030" stroke-width="0.55"/>
<text x="301.3" y="241.85" text-anchor="end" font-family="'Liberation Sans', Arial, sans-serif" font-size="3.75" fill="#3a3a3a" stroke="#3a3a3a" stroke-width="0.1">33.8</text>
<path d="M302 240.5L302.8 240.5L305 242.7" fill="none" stroke="#303030" stroke-width="0.55"/>
<text x="301.3" y="245.15" text-anchor="end" font-family="'Liberation Sans', Arial, sans-serif" font-size="3.75" fill="#3a3a3a" stroke="#3a3a3a" stroke-width="0.1">34.4</text>
<path d="M302 243.8L302.8 243.8L305 246" fill="none" stroke="#303030" stroke-width="0.55"/>
<text x="301.3" y="248.85" text-anchor="end" font-family="'Liberation Sans', Arial, sans-serif" font-size="3.75" fill="#3a3a3a" stroke="#3a3a3a" stroke-width="0.1">36.2</text>
<path d="M302 247.5L302.8 247.5L305 249.7" fill="none" stroke="#303030" stroke-width="0.55"/>
<text x="301.3" y="252.45" text-anchor="end" font-family="'Liberation Sans', Arial, sans-serif" font-size="3.75" fill="#3a3a3a" stroke="#3a3a3a" stroke-width="0.1">38.2</text>
<path d="M302 251.1L302.8 251.1L305 253.3" fill="none" stroke="#303030" stroke-width="0.55"/>
<text x="301.3" y="256.05" text-anchor="end" font-family="'Liberation Sans', Arial, sans-serif" font-size="3.75" fill="#3a3a3a" stroke="#3a3a3a" stroke-width="0.1">39.6</text>
<path d="M302 254.7L302.8 254.7L305 256.9" fill="none" stroke="#303030" stroke-width="0.55"/>
<text x="301.3" y="259.35" text-anchor="end" font-family="'Liberation Sans', Arial, sans-serif" font-size="3.75" fill="#3a3a3a" stroke="#3a3a3a" stroke-width="0.1">40.7</text>
<path d="M302 258L302.8 258L305 260.2" fill="none" stroke="#303030" stroke-width="0.55"/>
<text x="301.3" y="265.15" text-anchor="end" font-family="'Liberation Sans', Arial, sans-serif" font-size="3.75" fill="#3a3a3a" stroke="#3a3a3a" stroke-width="0.1">42.1</text>
<path d="M302 263.8L302.8 263.8L305 266" fill="none" stroke="#303030" stroke-width="0.55"/>
<text x="301.3" y="269.25" text-anchor="end" font-family="'Liberation Sans', Arial, sans-serif" font-size="3.75" fill="#3a3a3a" stroke="#3a3a3a" stroke-width="0.1">42.4</text>
<path d="M302 267.9L302.8 267.9L305 270.1" fill="none" stroke="#303030" stroke-width="0.55"/>
<text x="301.3" y="272.85" text-anchor="end" font-family="'Liberation Sans', Arial, sans-serif" font-size="3.75" fill="#3a3a3a" stroke="#3a3a3a" stroke-width="0.1">42.7</text>
<path d="M302 271.5L302.8 271.5L305 273.7" fill="none" stroke="#303030" stroke-width="0.55"/>
<text x="301.3" y="276.75" text-anchor="end" font-family="'Liberation Sans', Arial, sans-serif" font-size="3.75" fill="#3a3a3a" stroke="#3a3a3a" stroke-width="0.1">43.3</text>
<path d="M302 275.4L302.8 275.4L305 277.6" fill="none" stroke="#303030" stroke-width="0.55"/>
<text x="301.3" y="280.55" text-anchor="end" font-family="'Liberation Sans', Arial, sans-serif" font-size="3.75" fill="#3a3a3a" stroke="#3a3a3a" stroke-width="0.1">45.9</text>
<path d="M302 279.2L302.8 279.2L305 281.4" fill="none" stroke="#303030" stroke-width="0.55"/>
<text x="301.3" y="284.05" text-anchor="end" font-family="'Liberation Sans', Arial, sans-serif" font-size="3.75" fill="#3a3a3a" stroke="#3a3a3a" stroke-width="0.1">51.4</text>
<path d="M302 282.7L302.8 282.7L305 284.9" fill="none" stroke="#303030" stroke-width="0.55"/>
<text x="301.3" y="303.15" text-anchor="end" font-family="'Liberation Sans', Arial, sans-serif" font-size="3.75" fill="#3a3a3a" stroke="#3a3a3a" stroke-width="0.1">69.2</text>
<path d="M302.2 301.8L305.7 301.8" fill="none" stroke="#303030" stroke-width="0.55"/>
<text x="314.2" y="198.55" font-family="'Liberation Sans', Arial, sans-serif" font-size="3.75" fill="#2a2a2a" stroke="#2a2a2a" stroke-width="0.1">1106586</text>
<path d="M309.3 197.2L313.2 197.2" fill="none" stroke="#303030" stroke-width="0.55"/>
<text x="314.2" y="231.45" font-family="'Liberation Sans', Arial, sans-serif" font-size="3.75" fill="#2a2a2a" stroke="#2a2a2a" stroke-width="0.1">4990989</text>
<path d="M310 232.3L312.2 230.1L313.2 230.1" fill="none" stroke="#303030" stroke-width="0.55"/>
<text x="314.2" y="234.65" font-family="'Liberation Sans', Arial, sans-serif" font-size="3.75" fill="#2a2a2a" stroke="#2a2a2a" stroke-width="0.1">100092451 100</text>
<path d="M310 235.5L312.2 233.3L313.2 233.3" fill="none" stroke="#303030" stroke-width="0.55"/>
<text x="314.2" y="238.25" font-family="'Liberation Sans', Arial, sans-serif" font-size="3.75" fill="#2a2a2a" stroke="#2a2a2a" stroke-width="0.1">4990789</text>
<path d="M310 239.1L312.2 236.9L313.2 236.9" fill="none" stroke="#303030" stroke-width="0.55"/>
<text x="314.2" y="241.55" font-family="'Liberation Sans', Arial, sans-serif" font-size="3.75" fill="#2a2a2a" stroke="#2a2a2a" stroke-width="0.1">100090052 99</text>
<path d="M310 242.4L312.2 240.2L313.2 240.2" fill="none" stroke="#303030" stroke-width="0.55"/>
<text x="314.2" y="245.15" font-family="'Liberation Sans', Arial, sans-serif" font-size="3.75" fill="#2a2a2a" stroke="#2a2a2a" stroke-width="0.1">2096368</text>
<path d="M310 246L312.2 243.8L313.2 243.8" fill="none" stroke="#303030" stroke-width="0.55"/>
<text x="314.2" y="248.85" font-family="'Liberation Sans', Arial, sans-serif" font-size="3.75" fill="#2a2a2a" stroke="#2a2a2a" stroke-width="0.1">4992376</text>
<path d="M310 249.7L312.2 247.5L313.2 247.5" fill="none" stroke="#303030" stroke-width="0.55"/>
<text x="314.2" y="252.45" font-family="'Liberation Sans', Arial, sans-serif" font-size="3.75" fill="#2a2a2a" stroke="#2a2a2a" stroke-width="0.1">1111983</text>
<path d="M310 253.3L312.2 251.1L313.2 251.1" fill="none" stroke="#303030" stroke-width="0.55"/>
<text x="314.2" y="256.05" font-family="'Liberation Sans', Arial, sans-serif" font-size="3.75" fill="#2a2a2a" stroke="#2a2a2a" stroke-width="0.1">4990105</text>
<path d="M310 256.9L312.2 254.7L313.2 254.7" fill="none" stroke="#303030" stroke-width="0.55"/>
<text x="314.2" y="259.35" font-family="'Liberation Sans', Arial, sans-serif" font-size="3.75" fill="#2a2a2a" stroke="#2a2a2a" stroke-width="0.1">1234134</text>
<path d="M310 260.2L312.2 258L313.2 258" fill="none" stroke="#303030" stroke-width="0.55"/>
<text x="314.2" y="262.55" font-family="'Liberation Sans', Arial, sans-serif" font-size="3.75" fill="#2a2a2a" stroke="#2a2a2a" stroke-width="0.1">4990763 49</text>
<path d="M310 263.4L312.2 261.2L313.2 261.2" fill="none" stroke="#303030" stroke-width="0.55"/>
<text x="314.2" y="265.75" font-family="'Liberation Sans', Arial, sans-serif" font-size="3.75" fill="#2a2a2a" stroke="#2a2a2a" stroke-width="0.1">4990763</text>
<path d="M310 266.6L312.2 264.4L313.2 264.4" fill="none" stroke="#303030" stroke-width="0.55"/>
<text x="314.2" y="269.25" font-family="'Liberation Sans', Arial, sans-serif" font-size="3.75" fill="#2a2a2a" stroke="#2a2a2a" stroke-width="0.1">2026378</text>
<path d="M310 270.1L312.2 267.9L313.2 267.9" fill="none" stroke="#303030" stroke-width="0.55"/>
<text x="314.2" y="272.85" font-family="'Liberation Sans', Arial, sans-serif" font-size="3.75" fill="#2a2a2a" stroke="#2a2a2a" stroke-width="0.1">1121987</text>
<path d="M310 273.7L312.2 271.5L313.2 271.5" fill="none" stroke="#303030" stroke-width="0.55"/>
<text x="314.2" y="276.75" font-family="'Liberation Sans', Arial, sans-serif" font-size="3.75" fill="#2a2a2a" stroke="#2a2a2a" stroke-width="0.1">2260864</text>
<path d="M310 277.6L312.2 275.4L313.2 275.4" fill="none" stroke="#303030" stroke-width="0.55"/>
<text x="314.2" y="280.55" font-family="'Liberation Sans', Arial, sans-serif" font-size="3.75" fill="#2a2a2a" stroke="#2a2a2a" stroke-width="0.1">1232796</text>
<path d="M310 281.4L312.2 279.2L313.2 279.2" fill="none" stroke="#303030" stroke-width="0.55"/>
<text x="314.2" y="284.05" font-family="'Liberation Sans', Arial, sans-serif" font-size="3.75" fill="#2a2a2a" stroke="#2a2a2a" stroke-width="0.1">2534344</text>
<path d="M310 284.9L312.2 282.7L313.2 282.7" fill="none" stroke="#303030" stroke-width="0.55"/>
<text x="314.2" y="303.15" font-family="'Liberation Sans', Arial, sans-serif" font-size="3.75" fill="#2a2a2a" stroke="#2a2a2a" stroke-width="0.1">100102520</text>
<path d="M309.3 301.8L313.2 301.8" fill="none" stroke="#303030" stroke-width="0.55"/>
<g transform="translate(0.4,0)">
<rect x="304.6" y="233" width="5.2" height="42" fill="#fff"/>
<path d="M305.3 231.5 Q305.6 236.5 307.1 238 Q308.6 236.5 308.9 231.5" fill="none" stroke="#555" stroke-width="0.7"/>
<path d="M302.6 233.5 L305.4 238.6 M311.6 233.5 L308.8 238.6 M302.6 236.9 L305.2 240.2 M311.6 236.9 L309 240.2" fill="none" stroke="#444" stroke-width="0.6"/>
<path d="M302.8 242 Q307.1 246.2 311.4 242" fill="none" stroke="#3a3a3a" stroke-width="0.75"/>
<path d="M302.8 245.6 Q307.1 249.8 311.4 245.6" fill="none" stroke="#3a3a3a" stroke-width="0.75"/>
<path d="M302.8 249.2 Q307.1 253.4 311.4 249.2" fill="none" stroke="#3a3a3a" stroke-width="0.75"/>
<path d="M302.8 252.7 Q307.1 256.9 311.4 252.7" fill="none" stroke="#3a3a3a" stroke-width="0.75"/>
<path d="M302.8 256 Q307.1 260.2 311.4 256" fill="none" stroke="#3a3a3a" stroke-width="0.75"/>
<ellipse cx="307.1" cy="260.6" rx="1.9" ry="1.3" fill="#222"/>
<path d="M306.2 261 L303.7 276.5 M308 261 L311.3 276.5" fill="none" stroke="#222" stroke-width="1.1"/>
<path d="M305.2 277.5 Q307.1 272.5 309 277.5" fill="none" stroke="#333" stroke-width="0.8"/>
<path d="M303.7 276.5 L305.3 281 M311.3 276.5 L308.9 281 M302.4 279.3 L305.3 283 M311.8 279.3 L308.9 283" fill="none" stroke="#444" stroke-width="0.6"/>
</g>
<rect x="345.4" y="197" width="3.6" height="77.4" fill="#a00000"/>
<text transform="translate(349.9,217.2) rotate(90)" x="0" y="0" textLength="36.2" lengthAdjust="spacingAndGlyphs" font-family="'Liberation Sans', Arial, sans-serif" font-size="3.0" fill="#c83c3c">QLr.nfbs-6AL.LR3-1</text>
<rect x="355.08" y="197" width="3.6" height="77.4" fill="#a00000"/>
<text transform="translate(359.58,217.2) rotate(90)" x="0" y="0" textLength="36.2" lengthAdjust="spacingAndGlyphs" font-family="'Liberation Sans', Arial, sans-serif" font-size="3.0" fill="#c83c3c">QLr.nfbs-6AL.LR3-2</text>
<rect x="364.76" y="197" width="3.6" height="77.4" fill="#a00000"/>
<text transform="translate(369.26,217.2) rotate(90)" x="0" y="0" textLength="36.2" lengthAdjust="spacingAndGlyphs" font-family="'Liberation Sans', Arial, sans-serif" font-size="3.0" fill="#c83c3c">QLr.nfbs-6AL.LR20</text>
<rect x="374.44" y="197" width="3.6" height="77.4" fill="#a00000"/>
<text transform="translate(378.94,217.2) rotate(90)" x="0" y="0" textLength="36.2" lengthAdjust="spacingAndGlyphs" font-family="'Liberation Sans', Arial, sans-serif" font-size="3.0" fill="#c83c3c">QLr.nfbs-6AL.LR34-1</text>
<rect x="384.12" y="197" width="3.6" height="77.4" fill="#a00000"/>
<text transform="translate(388.62,217.2) rotate(90)" x="0" y="0" textLength="36.2" lengthAdjust="spacingAndGlyphs" font-family="'Liberation Sans', Arial, sans-serif" font-size="3.0" fill="#c83c3c">QLr.nfbs-6AL.LR34-2</text>
<rect x="393.8" y="197" width="3.6" height="77.4" fill="#a00000"/>
<text transform="translate(398.3,217.2) rotate(90)" x="0" y="0" textLength="36.2" lengthAdjust="spacingAndGlyphs" font-family="'Liberation Sans', Arial, sans-serif" font-size="3.0" fill="#c83c3c">QLr.nfbs-6AL.LR33-1</text>
<rect x="403.48" y="197" width="3.6" height="77.4" fill="#a00000"/>
<text transform="translate(407.98,217.2) rotate(90)" x="0" y="0" textLength="36.2" lengthAdjust="spacingAndGlyphs" font-family="'Liberation Sans', Arial, sans-serif" font-size="3.0" fill="#c83c3c">QLr.nfbs-6AL.LR33-2</text>
<rect x="413.16" y="197" width="3.6" height="77.4" fill="#838300"/>
<text transform="translate(417.66,216.8) rotate(90)" x="0" y="0" textLength="34.7" lengthAdjust="spacingAndGlyphs" font-family="'Liberation Sans', Arial, sans-serif" font-size="3.0" fill="#a0a020">QLr.nfbs-6AL.VR31-1</text>
<rect x="422.84" y="197" width="3.6" height="77.4" fill="#838300"/>
<text transform="translate(427.34,216.8) rotate(90)" x="0" y="0" textLength="34.7" lengthAdjust="spacingAndGlyphs" font-family="'Liberation Sans', Arial, sans-serif" font-size="3.0" fill="#a0a020">QLr.nfbs-6AL.VR31-2</text>
<rect x="432.52" y="197" width="3.6" height="77.4" fill="#838300"/>
<text transform="translate(437.02,216.8) rotate(90)" x="0" y="0" textLength="34.7" lengthAdjust="spacingAndGlyphs" font-family="'Liberation Sans', Arial, sans-serif" font-size="3.0" fill="#a0a020">QLr.nfbs-6AL.VR31-3</text>
<rect x="442.2" y="197" width="3.6" height="77.4" fill="#838300"/>
<text transform="translate(446.7,216.8) rotate(90)" x="0" y="0" textLength="34.7" lengthAdjust="spacingAndGlyphs" font-family="'Liberation Sans', Arial, sans-serif" font-size="3.0" fill="#a0a020">QLr.nfbs-6AL.VR31-4</text>
<rect x="451.88" y="197" width="3.6" height="77.4" fill="#008000"/>
<text transform="translate(456.38,213.9) rotate(90)" x="0" y="0" textLength="47.4" lengthAdjust="spacingAndGlyphs" font-family="'Liberation Sans', Arial, sans-serif" font-size="3.0" fill="#30a848">QLr.nfbs-6AL.VRSIZE1-1</text>
<rect x="461.56" y="197" width="3.6" height="77.4" fill="#008000"/>
<text transform="translate(466.06,213.9) rotate(90)" x="0" y="0" textLength="47.4" lengthAdjust="spacingAndGlyphs" font-family="'Liberation Sans', Arial, sans-serif" font-size="3.0" fill="#30a848">QLr.nfbs-6AL.VRSIZE1-2</text>
<rect x="471.24" y="197" width="3.6" height="77.4" fill="#008000"/>
<text transform="translate(475.74,213.9) rotate(90)" x="0" y="0" textLength="47.4" lengthAdjust="spacingAndGlyphs" font-family="'Liberation Sans', Arial, sans-serif" font-size="3.0" fill="#30a848">QLr.nfbs-6AL.VRSIZE1-3</text>
<rect x="480.92" y="197" width="3.6" height="77.4" fill="#008000"/>
<text transform="translate(485.42,213.9) rotate(90)" x="0" y="0" textLength="47.4" lengthAdjust="spacingAndGlyphs" font-family="'Liberation Sans', Arial, sans-serif" font-size="3.0" fill="#30a848">QLr.nfbs-6AL.VRSIZE1-4</text>
<rect x="490.6" y="197" width="3.6" height="77.4" fill="#008000"/>
<text transform="translate(495.1,213.9) rotate(90)" x="0" y="0" textLength="47.4" lengthAdjust="spacingAndGlyphs" font-family="'Liberation Sans', Arial, sans-serif" font-size="3.0" fill="#30a848">QLr.nfbs-6AL.VRSIZE1-5</text>
<rect x="500.28" y="197" width="3.6" height="77.4" fill="#ff00ff"/>
<text transform="translate(504.78,216.8) rotate(90)" x="0" y="0" textLength="34.7" lengthAdjust="spacingAndGlyphs" font-family="'Liberation Sans', Arial, sans-serif" font-size="3.0" fill="#ff30ff">QLr.nfbs-6AL.SR31-1</text>
<rect x="509.96" y="197" width="3.6" height="77.4" fill="#ff00ff"/>
<text transform="translate(514.46,216.8) rotate(90)" x="0" y="0" textLength="34.7" lengthAdjust="spacingAndGlyphs" font-family="'Liberation Sans', Arial, sans-serif" font-size="3.0" fill="#ff30ff">QLr.nfbs-6AL.SR31-2</text>
<rect x="519.64" y="197" width="3.6" height="77.4" fill="#ff00ff"/>
<text transform="translate(524.14,216.8) rotate(90)" x="0" y="0" textLength="34.7" lengthAdjust="spacingAndGlyphs" font-family="'Liberation Sans', Arial, sans-serif" font-size="3.0" fill="#ff30ff">QLr.nfbs-6AL.SR31-3</text>
<rect x="529.32" y="197" width="3.6" height="77.4" fill="#ff00ff"/>
<text transform="translate(533.82,216.8) rotate(90)" x="0" y="0" textLength="34.7" lengthAdjust="spacingAndGlyphs" font-family="'Liberation Sans', Arial, sans-serif" font-size="3.0" fill="#ff30ff">QLr.nfbs-6AL.SR31-4</text>
<rect x="539" y="197" width="3.6" height="77.4" fill="#ff00ff"/>
<text transform="translate(543.5,216.8) rotate(90)" x="0" y="0" textLength="34.7" lengthAdjust="spacingAndGlyphs" font-family="'Liberation Sans', Arial, sans-serif" font-size="3.0" fill="#ff30ff">QLr.nfbs-6AL.SR31-5</text>
<text x="400.5" y="331.2" font-family="'Liberation Serif', 'Times New Roman', serif" font-weight="bold" font-size="13" fill="#000">d)</text>
</svg></body></html>
